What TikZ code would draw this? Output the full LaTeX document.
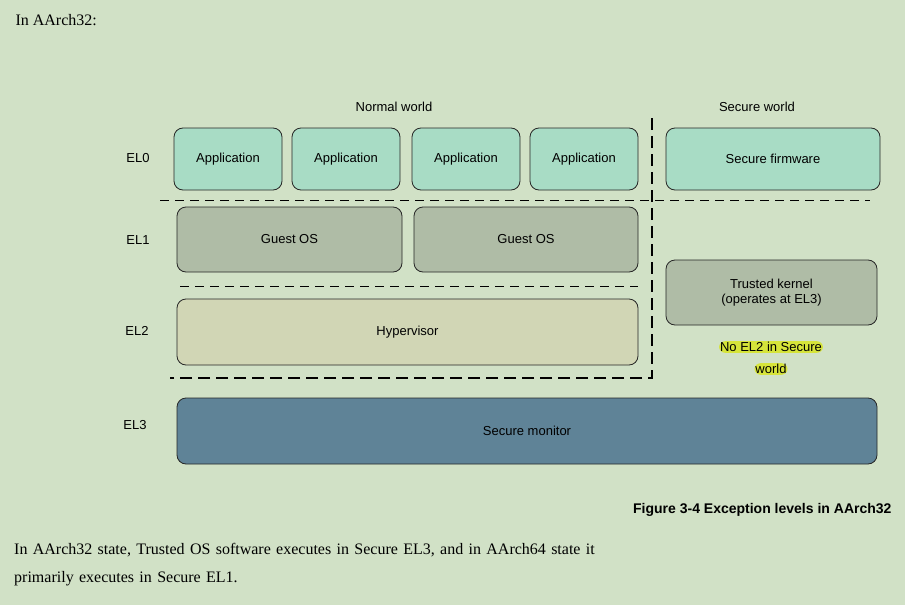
\documentclass[tikz,border=0pt]{standalone}
\usepackage{fontspec}
\setmainfont{Liberation Serif}
\newfontfamily\sans{Liberation Sans}
\begin{document}
\begin{tikzpicture}[x=1pt,y=-1pt,
  box/.style={draw=black!85,line width=0.8pt,rounded corners=9pt,font=\sans\fontsize{13}{15}\selectfont,align=center},
  app/.style={box,fill=appc},
  os/.style={box,fill=osc},
  lbl/.style={font=\sans\fontsize{13}{15}\selectfont},
  dl/.style={dash pattern=on 9pt off 6pt,line width=1pt},
  dt/.style={dash pattern=on 12pt off 6pt,line width=2pt}]
\definecolor{bgc}{HTML}{D1E1C6}
\definecolor{appc}{HTML}{A8DCC5}
\definecolor{osc}{HTML}{AFBCA6}
\definecolor{hypc}{HTML}{D1D6B5}
\definecolor{monc}{HTML}{5F8397}
\definecolor{hlc}{HTML}{D6E43A}
\fill[bgc] (0,0) rectangle (905,605);
\useasboundingbox (0,0) rectangle (905,605);
\node[anchor=west,font=\fontsize{16}{19}\selectfont] (intro) at (12,20) {In AArch32:};
\node[lbl] (nw) at (394,107) {Normal world};
\node[lbl] (sw) at (757,107) {Secure world};
\node[lbl] (el0) at (138,158) {EL0};
\node[lbl] (el1) at (138,240) {EL1};
\node[lbl] (el2) at (137,331) {EL2};
\node[lbl] (el3) at (135,425) {EL3};
\foreach \i/\a in {1/174,2/292,3/412,4/530}
  \node[app,minimum width=108pt,minimum height=62pt] (app\i) at (\a+54,159) {Application};
\node[app,minimum width=214pt,minimum height=62pt] (sf) at (773,159) {Secure firmware};
\node[os,minimum width=225pt,minimum height=65pt] (g1) at (289.5,239.5) {Guest OS};
\node[os,minimum width=224pt,minimum height=65pt] (g2) at (526,239.5) {Guest OS};
\node[box,fill=hypc,minimum width=461pt,minimum height=66pt] (hyp) at (407.5,332) {Hypervisor};
\node[os,minimum width=211pt,minimum height=65pt] (tk) at (771.5,292.5) {Trusted kernel\\(operates at EL3)};
\node[box,fill=monc,minimum width=700pt,minimum height=66pt] (mon) at (527,431) {Secure monitor};
\node[lbl,align=center,fill=hlc,rounded corners=6pt,inner sep=1pt] (hl1) at (771,347) {No EL2 in Secure};
\node[lbl,fill=hlc,rounded corners=6pt,inner sep=1pt] (hl2) at (771,369) {world};
\draw[dl] (160,200) -- (870,200);
\draw[dl] (180,286) -- (638,286);
\draw[dt] (652,118) -- (652,378) -- (170,378);
\node[anchor=east,font=\sans\bfseries\fontsize{14}{17}\selectfont] (cap) at (895,510) {Figure 3-4 Exception levels in AArch32};
\node[anchor=north west,align=left,text width=880pt,font=\fontsize{16}{28}\selectfont,inner sep=0pt] (para) at (14,543) {In AArch32 state, Trusted OS software executes in Secure EL3, and in AArch64 state it\\primarily executes in Secure EL1.};
\end{tikzpicture}
\end{document}
